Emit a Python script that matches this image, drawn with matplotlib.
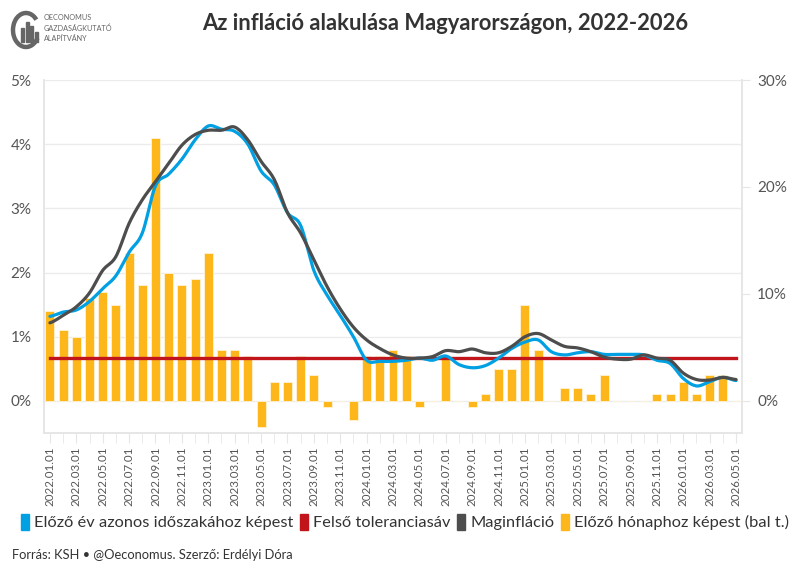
import matplotlib
matplotlib.use("Agg")
import matplotlib.pyplot as plt
from matplotlib.patches import Patch, Arc, Rectangle
import numpy as np

plt.rcParams['font.family'] = ['Lato', 'DejaVu Sans']

# havi adatok 2022.01 - 2026.05
years = [2022, 2023, 2024, 2025, 2026]
months = [f"{y}.{m:02d}.01" for y in years for m in range(1, 13)][:53]

# elozo honaphoz kepest (bal tengely, %)
mom = [1.4, 1.1, 1.0, 1.6, 1.7, 1.5, 2.3, 1.8, 4.1, 2.0, 1.8, 1.9,
       2.3, 0.8, 0.8, 0.7, -0.4, 0.3, 0.3, 0.7, 0.4, -0.1, 0.0, -0.3,
       0.7, 0.7, 0.8, 0.7, -0.1, 0.0, 0.7, 0.0, -0.1, 0.1, 0.5, 0.5,
       1.5, 0.8, 0.0, 0.2, 0.2, 0.1, 0.4, 0.0, 0.0, 0.0, 0.1, 0.1,
       0.3, 0.1, 0.4, 0.4, 0.0]

# elozo ev azonos idoszakahoz kepest (jobb tengely, %)
yoy = [7.9, 8.3, 8.5, 9.3, 10.5, 11.7, 13.9, 15.7, 20.1, 21.2, 22.6, 24.4,
       25.7, 25.4, 25.2, 24.0, 21.5, 20.2, 17.6, 16.4, 12.2, 9.9, 8.0, 6.0,
       3.8, 3.7, 3.7, 3.8, 4.0, 3.8, 4.2, 3.4, 3.1, 3.3, 4.0, 4.9,
       5.5, 5.7, 4.6, 4.3, 4.5, 4.6, 4.35, 4.35, 4.35, 4.3, 3.8, 3.5,
       2.1, 1.4, 1.8, 2.2, 1.9]

# maginflacio (jobb tengely, %)
core = [7.3, 8.0, 8.8, 10.1, 12.2, 13.5, 16.6, 18.8, 20.5, 22.2, 23.9, 24.9,
        25.3, 25.3, 25.6, 24.4, 22.4, 20.7, 17.6, 15.7, 13.2, 10.7, 8.6, 6.9,
        5.7, 4.9, 4.3, 4.0, 4.0, 4.15, 4.7, 4.6, 4.85, 4.5, 4.5, 5.1,
        6.0, 6.3, 5.7, 5.1, 4.95, 4.6, 4.1, 3.9, 3.9, 4.3, 4.0, 3.8,
        2.6, 2.0, 1.95, 2.2, 2.0]

tolerance = 4.0

c_blue = "#00a0e3"
c_red = "#c1151b"
c_grey = "#4d4d4d"
c_orange = "#fdb71a"
c_axis = "#e6e6e6"
c_text = "#555555"


def smooth(x, y, k=12):
    # catmull-rom, csak a rajzolashoz
    x = np.asarray(x, float)
    y = np.asarray(y, float)
    n = len(y)
    xs, ys = [], []
    t = np.linspace(0, 1, k, endpoint=False)
    for i in range(n - 1):
        p0 = y[i - 1] if i > 0 else y[i]
        p1, p2 = y[i], y[i + 1]
        p3 = y[i + 2] if i + 2 < n else y[i + 1]
        ys.append(0.5 * (2 * p1 + (-p0 + p2) * t + (2 * p0 - 5 * p1 + 4 * p2 - p3) * t ** 2
                         + (-p0 + 3 * p1 - 3 * p2 + p3) * t ** 3))
        xs.append(x[i] + t * (x[i + 1] - x[i]))
    xs.append([x[-1]])
    ys.append([y[-1]])
    return np.concatenate(xs), np.concatenate(ys)


fig = plt.figure(figsize=(7.94, 5.75), dpi=100)
ax = fig.add_axes([44 / 794, 1 - 433 / 575, 698 / 794, 353 / 575])
ax2 = ax.twinx()

x = np.arange(len(months))
ax.bar(x, mom, width=0.68, color=c_orange, edgecolor="#fff3d6", linewidth=0.6, zorder=2)
ax.set_ylim(-0.5, 5)
ax.set_xlim(-0.45, len(months) - 0.55)
ax.set_yticks([0, 1, 2, 3, 4, 5])
ax.set_yticklabels([f"{v}%" for v in range(6)])
ax.grid(axis="y", color="#ececec", linewidth=1, zorder=0)
ax.set_axisbelow(True)
ax.tick_params(axis="y", length=0, pad=9, labelsize=11, labelcolor=c_text)

ax.set_xticks(x, minor=True)
ax.set_xticks(x[::2])
ax.set_xticklabels(months[::2], rotation=90, fontsize=8.3, color=c_text)
ax.tick_params(axis="x", which="both", length=7, color=c_axis, pad=3)

ax2.plot(x, [tolerance] * len(x), color=c_red, linewidth=2.4, zorder=3)
sx, sy = smooth(x, yoy)
ax2.plot(sx, sy, color=c_blue, linewidth=2.3, zorder=4, solid_capstyle="round")
sx, sy = smooth(x, core)
ax2.plot(sx, sy, color=c_grey, linewidth=2.3, zorder=5, solid_capstyle="round")
ax2.set_ylim(-3, 30)
ax2.set_yticks([0, 10, 20, 30])
ax2.set_yticklabels(["0%", "10%", "20%", "30%"])
ax2.tick_params(axis="y", length=6, color=c_axis, pad=5, labelsize=11, labelcolor=c_text)

for a in (ax, ax2):
    a.spines["top"].set_visible(False)
    for s in ("left", "right", "bottom"):
        a.spines[s].set_color(c_axis)
        a.spines[s].set_linewidth(1.2)

fig.text(445 / 794, 1 - 23 / 575, "Az infláció alakulása Magyarországon, 2022-2026",
         ha="center", va="center", fontsize=15.8, fontweight="bold", color="#333333")

# logo
lg = fig.add_axes([8 / 794, 1 - 56 / 575, 36 / 794, 48 / 575])
lg.set_xlim(0, 36)
lg.set_ylim(0, 48)
lg.axis("off")
lg.add_patch(Arc((18, 26), 26, 34, theta1=45, theta2=325, color="#666666", linewidth=3.2))
lg.add_patch(Rectangle((13, 14), 3, 14, color="#666666"))
lg.add_patch(Rectangle((17.5, 14), 3, 20, color="#666666"))
lg.add_patch(Rectangle((22, 14), 3, 16, color="#666666"))
lg.add_patch(Rectangle((26.5, 14), 3, 10, color="#666666"))
fig.text(44 / 794, 1 - 28 / 575, "OECONOMUS\nGAZDASÁGKUTATÓ\nALAPÍTVÁNY",
         ha="left", va="center", fontsize=5.2, color="#666666", linespacing=1.45)

handles = [Patch(color=c_blue), Patch(color=c_red), Patch(color=c_grey), Patch(color=c_orange)]
labels = ["Előző év azonos időszakához képest", "Felső toleranciasáv",
          "Maginfláció", "Előző hónaphoz képest (bal t.)"]
fig.legend(handles, labels, loc="center left", bbox_to_anchor=(6 / 794, 1 - 522 / 575),
           ncol=4, frameon=False, fontsize=11.8, handlelength=0.5, handleheight=1.1,
           handletextpad=0.3, columnspacing=0.4, labelcolor="#333333")

fig.text(12 / 794, 1 - 555 / 575, "Forrás: KSH • @Oeconomus. Szerző: Erdélyi Dóra",
         ha="left", va="center", fontsize=9.3, color="#333333")

fig.savefig("out.png", dpi=100)
